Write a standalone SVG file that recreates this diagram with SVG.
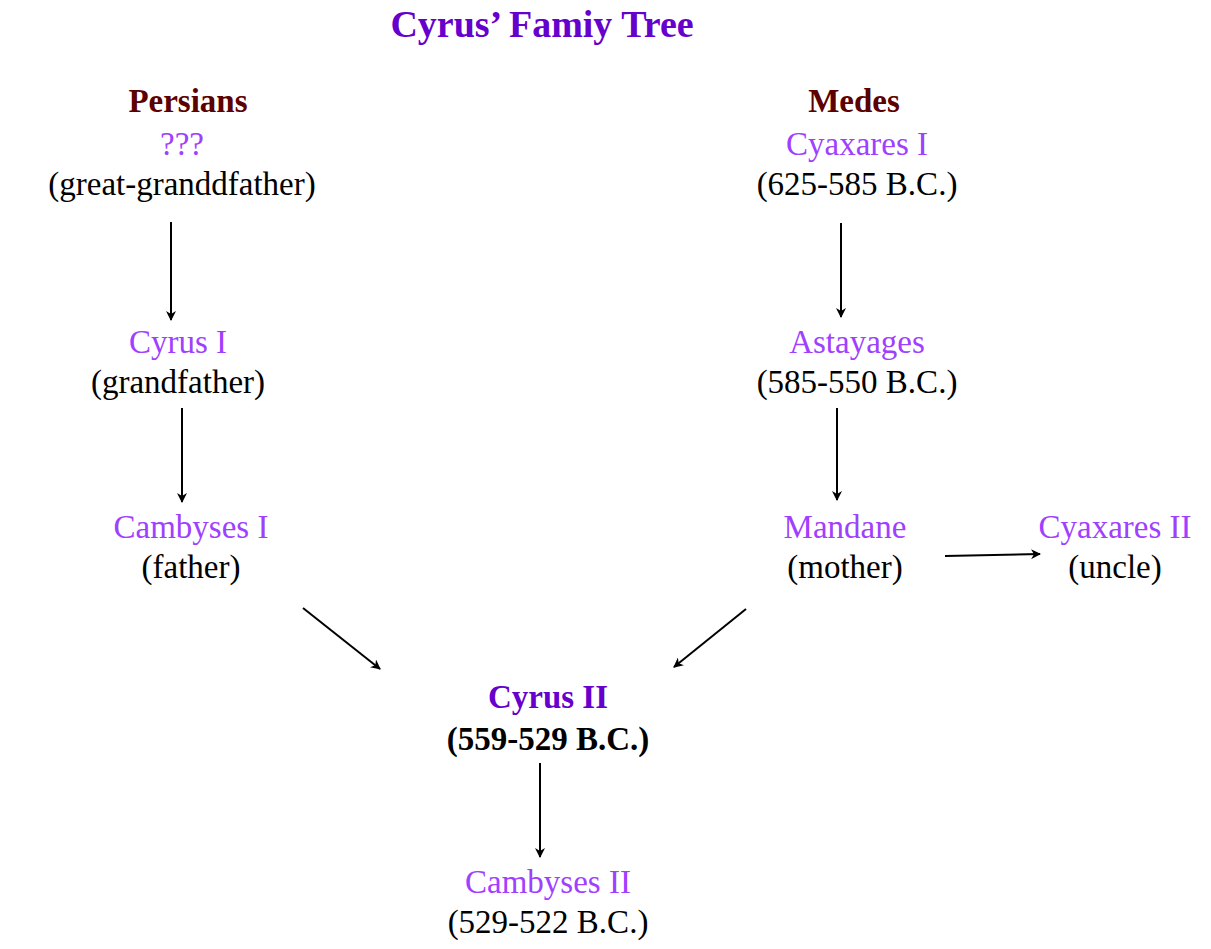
<svg xmlns="http://www.w3.org/2000/svg" width="1211" height="949" viewBox="0 0 1211 949">
<style>
text{font-family:"Liberation Serif","Times New Roman",serif;font-size:33px;text-anchor:middle;fill:#000}
.n{fill:#A040FF}
.h{fill:#5C0000;font-weight:bold}
.t{fill:#6600CC;font-weight:bold;font-size:38px}
.b{font-weight:bold}
.c line{stroke:#000;stroke-width:2;marker-end:url(#a)}
</style>
<defs><marker id="a" markerWidth="10" markerHeight="10" refX="9" refY="5" orient="auto" markerUnits="userSpaceOnUse"><path d="M0,0 L10,5 L0,10 L3,5 z" fill="#000"/></marker></defs>
<rect width="1211" height="949" fill="#fff"/>
<text class="t" x="542" y="37">Cyrus’ Famiy Tree</text>
<g id="persians"><text class="h" x="188" y="112">Persians</text></g>
<g id="medes"><text class="h" x="854" y="112">Medes</text></g>
<g id="ggf"><text class="n" x="182" y="155">???</text><text x="182" y="195">(great-granddfather)</text></g>
<g id="cyrus1"><text class="n" x="178" y="353">Cyrus I</text><text x="178" y="393">(grandfather)</text></g>
<g id="cambyses1"><text class="n" x="191" y="538">Cambyses I</text><text x="191" y="578">(father)</text></g>
<g id="cyaxares1"><text class="n" x="857" y="155">Cyaxares I</text><text x="857" y="195">(625-585 B.C.)</text></g>
<g id="astayages"><text class="n" x="857" y="353">Astayages</text><text x="857" y="393">(585-550 B.C.)</text></g>
<g id="mandane"><text class="n" x="845" y="538">Mandane</text><text x="845" y="578">(mother)</text></g>
<g id="cyaxares2"><text class="n" x="1115" y="538">Cyaxares II</text><text x="1115" y="578">(uncle)</text></g>
<g id="cyrus2"><text class="b" x="548" y="708" style="fill:#6600CC">Cyrus II</text><text class="b" x="548" y="750">(559-529 B.C.)</text></g>
<g id="cambyses2"><text class="n" x="548" y="893">Cambyses II</text><text x="548" y="933">(529-522 B.C.)</text></g>
<g class="c" id="connectors">
<line x1="171" y1="222" x2="171" y2="320"/>
<line x1="182" y1="408" x2="182" y2="502"/>
<line x1="841" y1="223" x2="841" y2="317"/>
<line x1="837" y1="408" x2="837" y2="500"/>
<line x1="945" y1="556" x2="1040" y2="554"/>
<line x1="303" y1="608" x2="380" y2="669"/>
<line x1="746" y1="609" x2="674" y2="667"/>
<line x1="540" y1="763" x2="540" y2="857"/>
</g>
</svg>
